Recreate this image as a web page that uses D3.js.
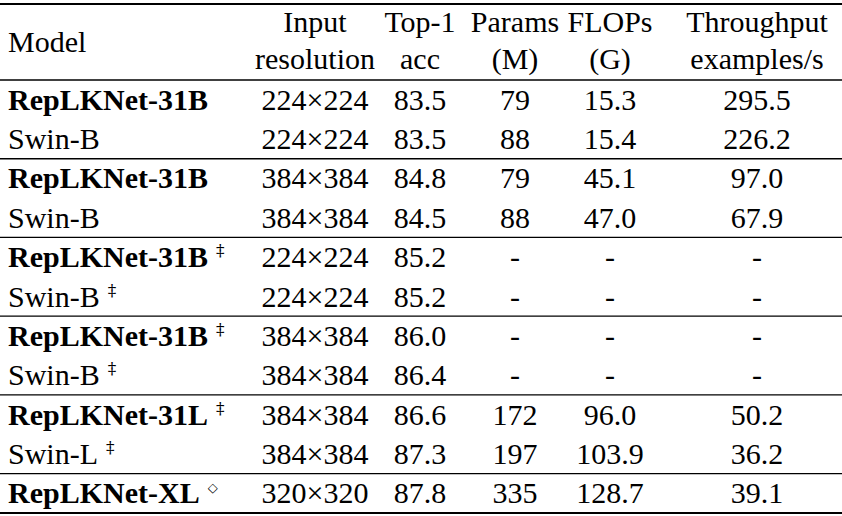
<!DOCTYPE html>
<html><head><meta charset="utf-8">
<script src="https://cdn.jsdelivr.net/npm/d3@7"></script>
<style>body{margin:0;background:#fff}</style>
</head><body>
<svg id="t" width="842" height="516"></svg>
<script>
const headTop = ["", "Input", "Top-1", "Params", "FLOPs", "Throughput"]
const headBottom = ["Model", "resolution", "acc", "(M)", "(G)", "examples/s"]
const models = ["RepLKNet-31B", "Swin-B", "RepLKNet-31B", "Swin-B", "RepLKNet-31B", "Swin-B",
  "RepLKNet-31B", "Swin-B", "RepLKNet-31L", "Swin-L", "RepLKNet-XL"]
const marks = ["", "", "", "", "‡", "‡", "‡", "‡", "‡", "‡", "◇"]
const resolution = ["224×224", "224×224", "384×384", "384×384", "224×224", "224×224",
  "384×384", "384×384", "384×384", "384×384", "320×320"]
const top1 = ["83.5", "83.5", "84.8", "84.5", "85.2", "85.2", "86.0", "86.4", "86.6", "87.3", "87.8"]
const params = ["79", "88", "79", "88", "-", "-", "-", "-", "172", "197", "335"]
const flops = ["15.3", "15.4", "45.1", "47.0", "-", "-", "-", "-", "96.0", "103.9", "128.7"]
const throughput = ["295.5", "226.2", "97.0", "67.9", "-", "-", "-", "-", "50.2", "36.2", "39.1"]

const svg = d3.select('#t').style('font-family', '"Liberation Serif", serif').style('font-size', '30px')
  .attr('fill', '#000')
const colX = [8, 315, 420, 515, 610, 757]
const rowY = d3.scaleLinear().domain([0, 11]).range([80, 513])
const rh = rowY(1) - rowY(0)

// header
headTop.forEach((t, i) => svg.append('text').attr('x', colX[i]).attr('y', 32)
  .attr('text-anchor', i ? 'middle' : 'start').text(t))
headBottom.forEach((t, i) => svg.append('text').attr('x', colX[i]).attr('y', i ? 69 : 52)
  .attr('text-anchor', i ? 'middle' : 'start').text(t))

// rules
const rule = (y, w) => svg.append('line').attr('x1', 0).attr('x2', 842).attr('y1', y).attr('y2', y)
  .attr('stroke', '#000').attr('stroke-width', w)
rule(4, 2); rule(513, 2)
;[0, 2, 4, 6, 8, 10].forEach(i => rule(rowY(i), 1.3))

const cols = [resolution, top1, params, flops, throughput]
models.forEach((m, r) => {
  const y = rowY(r) + rh / 2 + 10
  const t = svg.append('text').attr('x', colX[0]).attr('y', y)
  t.append('tspan').attr('font-weight', m.startsWith('Rep') ? 'bold' : null).text(m)
  if (marks[r]) t.append('tspan').attr('font-size', marks[r] === '◇' ? '13px' : '17px')
    .attr('font-family', '"DejaVu Serif", serif')
    .attr('dx', 8).attr('dy', -11).text(marks[r])
  cols.forEach((c, j) => svg.append('text').attr('x', colX[j + 1]).attr('y', y)
    .attr('text-anchor', 'middle').text(c[r]))
})
</script>
</body></html>
